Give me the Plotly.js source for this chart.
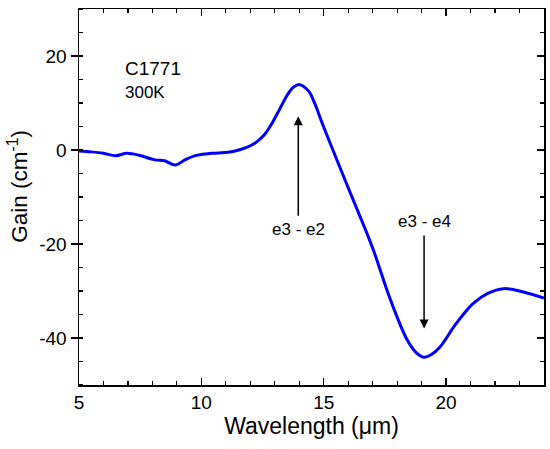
<!DOCTYPE html>
<html>
<head>
<meta charset="utf-8">
<script src="https://cdn.plot.ly/plotly-3.0.1.min.js"></script>
<style>html,body{margin:0;padding:0;background:#fff;}#chart{width:550px;height:449px;}</style>
</head>
<body>
<div id="chart"></div>
<script>
const wavelength = [5.0, 5.5, 6.0, 6.5, 6.95, 7.45, 8.1, 8.5, 8.93, 9.33, 9.75, 10.4, 11.1, 11.6, 12.0, 12.3, 12.6, 12.9, 13.2, 13.5, 13.75, 13.97, 14.15, 14.4, 14.65, 14.9, 15.25, 15.95, 16.6, 17.05, 17.7, 18.4, 18.8, 19.1, 19.4, 19.75, 20.4, 21.1, 21.7, 22.35, 23.15, 24.0];
const gain = [-0.2, -0.4, -0.7, -1.2, -0.7, -1.1, -2.1, -2.3, -3.2, -2.1, -1.2, -0.7, -0.5, 0.1, 0.9, 1.9, 3.4, 5.8, 8.7, 11.6, 13.3, 13.95, 13.6, 12.4, 9.7, 6.2, 1.6, -7.4, -15.6, -21.6, -31.5, -40.3, -43.2, -44.1, -43.5, -41.9, -37.0, -32.7, -30.5, -29.5, -30.2, -31.5];

const yTickVals = [-40, -20, 0, 20];
const yTickText = ["-40", "-20", "0", "20"];
const xTickVals = [5, 10, 15, 20];
const xTickText = ["5", "10", "15", "20"];

const sampleLabel = "C1771";
const tempLabel = "300K";
const transitions = ["e3 - e2", "e3 - e4"];

const font = "Liberation Sans, Arial, sans-serif";

const traces = [
  {
    x: wavelength, y: gain, type: "scatter", mode: "lines",
    line: {color: "#0000ff", width: 3, shape: "spline", smoothing: 1},
    hoverinfo: "skip", showlegend: false
  },
  {
    x: [], y: [], xaxis: "x2", yaxis: "y2", type: "scatter", mode: "lines", showlegend: false, hoverinfo: "skip"
  }
];

const tickStyle = {ticklen: 7, tickwidth: 1.3, tickcolor: "#000"};
const minorStyle = {ticks: "inside", ticklen: 4, tickwidth: 1.2, tickcolor: "#000"};

const layout = {
  width: 550, height: 449,
  margin: {l: 78.5, r: 5.5, t: 9.3, b: 64.3},
  paper_bgcolor: "#fff", plot_bgcolor: "#fff",
  font: {family: font, color: "#000", size: 19},
  showlegend: false,
  xaxis: Object.assign({
    range: [5, 24], tickvals: xTickVals, ticktext: xTickText,
    ticks: "inside",
    minor: Object.assign({dtick: 1, tick0: 5}, minorStyle),
    showline: true, linecolor: "#000", linewidth: 1.5, mirror: true,
    showgrid: false, zeroline: false,
    tickfont: {size: 19, family: font},
    title: {text: "Wavelength (μm)", font: {size: 23, family: font}, standoff: 5}
  }, tickStyle),
  xaxis2: Object.assign({
    overlaying: "x", side: "top", range: [5, 24], tickvals: xTickVals,
    showticklabels: false, ticks: "inside",
    minor: Object.assign({dtick: 1, tick0: 5}, minorStyle),
    showline: false, showgrid: false, zeroline: false
  }, tickStyle),
  yaxis: Object.assign({
    range: [-50, 30], tickvals: yTickVals, ticktext: yTickText,
    ticks: "outside",
    minor: Object.assign({dtick: 5, tick0: 0}, minorStyle),
    showline: true, linecolor: "#000", linewidth: 1.5, mirror: true,
    showgrid: false, zeroline: false,
    tickfont: {size: 19, family: font}
  }, tickStyle),
  yaxis2: Object.assign({
    overlaying: "y", side: "right", range: [-50, 30], tickvals: yTickVals,
    showticklabels: false, ticks: "inside",
    minor: Object.assign({dtick: 5, tick0: 0}, minorStyle),
    showline: false, showgrid: false, zeroline: false
  }, tickStyle),
  annotations: [
    {x: -0.132, y: 0.529, xref: "paper", yref: "paper", text: "Gain (cm<sup>-1</sup>)", textangle: -90, showarrow: false, xanchor: "center", yanchor: "middle", font: {size: 22.5, family: font}},
    {x: 6.78, y: 17.27, xref: "x", yref: "y", text: sampleLabel, showarrow: false, xanchor: "left", yanchor: "middle", font: {size: 19, family: font}},
    {x: 6.78, y: 12.26, xref: "x", yref: "y", text: tempLabel, showarrow: false, xanchor: "left", yanchor: "middle", font: {size: 17, family: font}},
    {x: 13.96, y: 7.2, ax: 13.96, ay: -16.95, xref: "x", yref: "y", axref: "x", ayref: "y", text: transitions[0], borderpad: 4, showarrow: true, arrowhead: 2, arrowsize: 1.2, arrowwidth: 1.5, arrowcolor: "#000", font: {size: 17, family: font}},
    {x: 19.1, y: -38, ax: 19.1, ay: -15.2, xref: "x", yref: "y", axref: "x", ayref: "y", text: transitions[1], borderpad: 4, showarrow: true, arrowhead: 2, arrowsize: 1.2, arrowwidth: 1.5, arrowcolor: "#000", font: {size: 17, family: font}}
  ]
};

Plotly.newPlot("chart", traces, layout, {staticPlot: true, displayModeBar: false});
</script>
</body>
</html>
